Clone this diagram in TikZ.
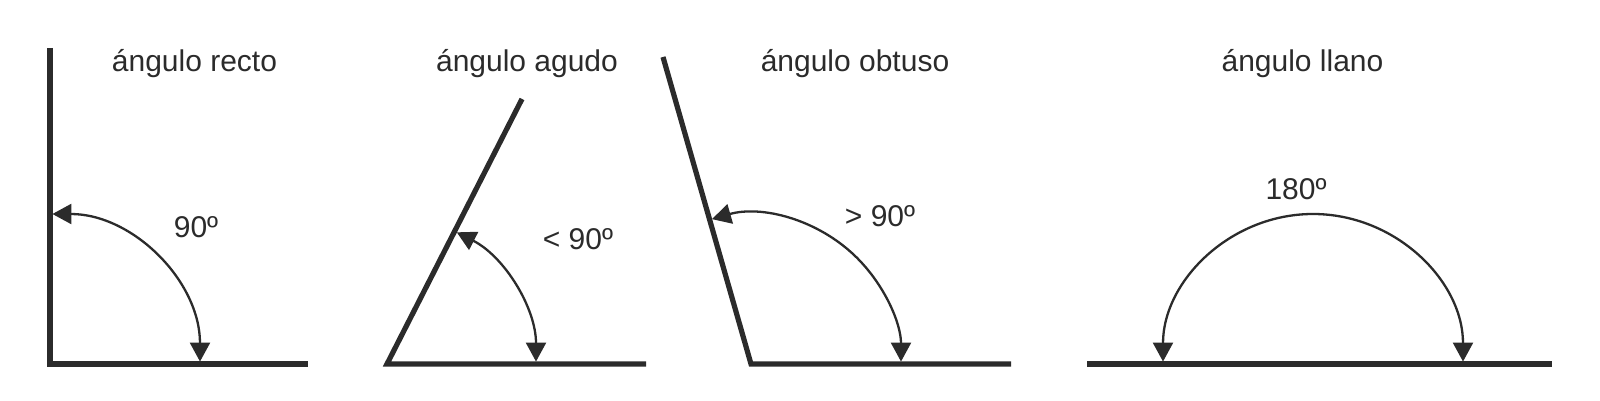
\documentclass[tikz,border=0pt]{standalone}
\usepackage{fontspec}
\setmainfont{Liberation Sans}
\usetikzlibrary{arrows.meta}
\definecolor{ink}{HTML}{2B2B2B}
\begin{document}
\begin{tikzpicture}[x=0.5pt,y=0.5pt,
  leg/.style={draw=ink,line width=2.6pt},
  arcline/.style={draw=ink,line width=1.15pt,
    {Triangle[length=9.5pt,width=10pt]}-{Triangle[length=9.5pt,width=10pt]},
    shorten <=1.2pt, shorten >=1.2pt},
  title/.style={font=\fontsize{15pt}{18pt}\selectfont,text=ink,inner sep=0pt,anchor=base},
  measure/.style={font=\fontsize{15pt}{18pt}\selectfont,text=ink,inner sep=0pt,anchor=base}]
\useasboundingbox (0,0) rectangle (1600,401);
% ---- panel 1: recto
\coordinate (c1) at (50,37);
\coordinate (t1) at (50,353);
\coordinate (h1) at (308,37);
\draw[leg] (t1) -- (c1) -- (h1);
\draw[arcline] (c1) ++(90:150) arc[start angle=90,end angle=0,radius=150];
\node[title] (n1) at (194.5,329) {ángulo recto};
\node[measure] (m1) at (196,163) {90º};
% ---- panel 2: agudo
\coordinate (c2) at (387,37);
\coordinate (t2) at (522,302);
\coordinate (h2) at (646,37);
\draw[leg] (t2) -- (c2) -- (h2);
\draw[arcline] (c2) ++(63:149) arc[start angle=63,end angle=0,radius=149];
\node[title] (n2) at (527,329) {ángulo agudo};
\node[measure] (m2) at (578,151) {< 90º};
% ---- panel 3: obtuso
\coordinate (c3) at (751,37);
\coordinate (t3) at (663,344);
\coordinate (h3) at (1011,37);
\draw[leg] (t3) -- (c3) -- (h3);
\draw[arcline] (c3) ++(106:150) arc[start angle=106,end angle=0,radius=150];
\node[title] (n3) at (855,329) {ángulo obtuso};
\node[measure] (m3) at (880,174) {> 90º};
% ---- panel 4: llano
\coordinate (a4) at (1087,37);
\coordinate (c4) at (1313,37);
\coordinate (b4) at (1552,37);
\draw[leg] (a4) -- (b4);
\draw[arcline] (c4) ++(180:150) arc[start angle=180,end angle=0,radius=150];
\node[title] (n4) at (1302.5,329) {ángulo llano};
\node[measure] (m4) at (1296,201) {180º};
\end{tikzpicture}
\end{document}
